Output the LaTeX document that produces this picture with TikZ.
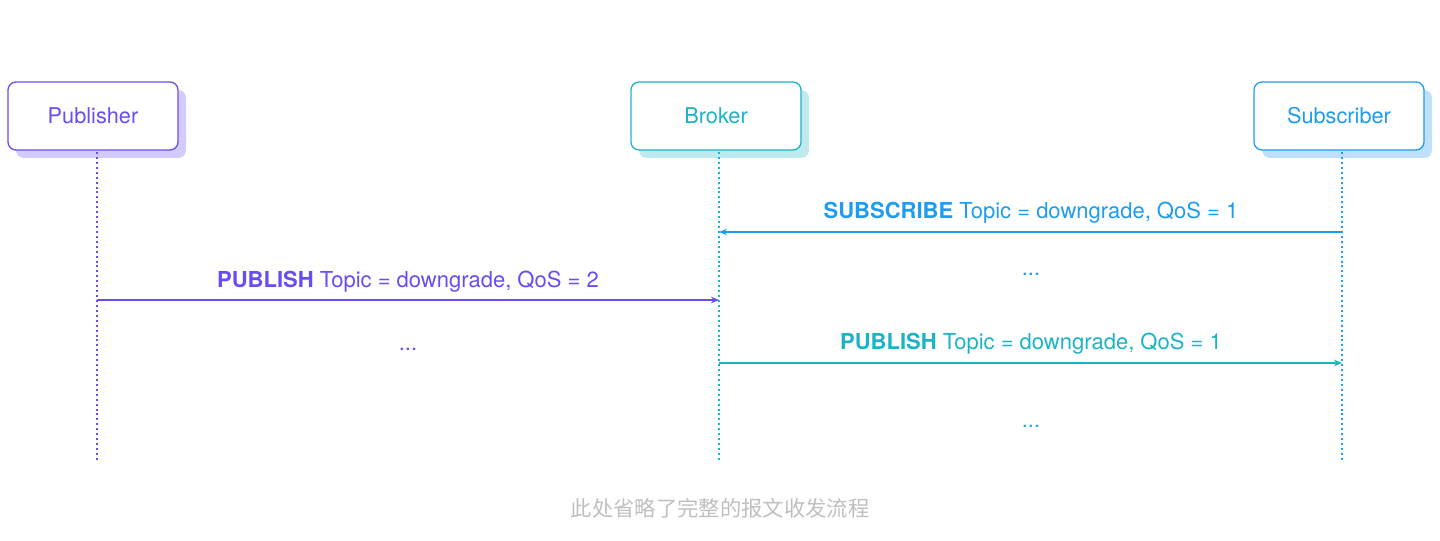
\documentclass[tikz,border=0pt]{standalone}
\usepackage{fontspec}
\setmainfont{TeX Gyre Heros}
\newfontfamily\cjk{Noto Sans CJK SC}
\usetikzlibrary{arrows.meta}
\definecolor{cpub}{HTML}{6A4CF5}
\definecolor{cbro}{HTML}{1DB3C7}
\definecolor{csub}{HTML}{1E9CF0}
\definecolor{spub}{HTML}{D3CBFB}
\definecolor{sbro}{HTML}{BDE9EF}
\definecolor{ssub}{HTML}{BFE0FB}
\begin{document}
\begin{tikzpicture}[x=0.75pt,y=-0.75pt,
  actor/.style={draw=#1,line width=1pt,rounded corners=6pt,fill=white,minimum width=127.5pt,minimum height=51pt,text=#1,font=\fontsize{16.3}{18}\selectfont},
  life/.style={draw=#1,dash pattern=on 1.5pt off 2.2pt,line width=1pt},
  msg/.style={draw=#1,line width=1pt,-{Stealth[length=6pt,width=5pt]}},
  lab/.style={text=#1,font=\fontsize{16.5}{18}\selectfont},
  dots/.style={text=#1,font=\fontsize{16.5}{18}\selectfont}]
\useasboundingbox (0,0) rectangle (1440,541);
\fill[spub,rounded corners=6pt] (16,90) rectangle (186,158);
\fill[sbro,rounded corners=6pt] (639,90) rectangle (809,158);
\fill[ssub,rounded corners=6pt] (1262,90) rectangle (1432,158);
\node[actor=cpub] (pub) at (93,116) {Publisher};
\node[actor=cbro] (bro) at (716,116) {Broker};
\node[actor=csub] (sub) at (1339,116) {Subscriber};
\coordinate (pt) at (97,152); \coordinate (pb) at (97,460);
\coordinate (bt) at (719,152); \coordinate (bb) at (719,460);
\coordinate (st) at (1342,152); \coordinate (sb) at (1342,460);
\draw[life=cpub] (pt) -- (pb);
\draw[life=cbro] (bt) -- (bb);
\draw[life=csub] (st) -- (sb);
\coordinate (s1) at (1342,232); \coordinate (b1) at (719,232);
\draw[msg=csub] (s1) -- (b1);
\node[lab=csub] (l1) at (1031,213) {\textbf{SUBSCRIBE} Topic = downgrade, QoS = 1};
\node[dots=csub] (d1) at (1031,274) {...};
\coordinate (p2) at (97,300); \coordinate (b2) at (719,300);
\draw[msg=cpub] (p2) -- (b2);
\node[lab=cpub] (l2) at (408,282) {\textbf{PUBLISH} Topic = downgrade, QoS = 2};
\node[dots=cpub] (d2) at (408,349) {...};
\coordinate (b3) at (719,363); \coordinate (s3) at (1342,363);
\draw[msg=cbro] (b3) -- (s3);
\node[lab=cbro] (l3) at (1031,344) {\textbf{PUBLISH} Topic = downgrade, QoS = 1};
\node[dots=cbro] (d3) at (1031,426) {...};
\node[text=black!25,font=\cjk\fontsize{16}{18}\selectfont] (cap) at (720,508) {此处省略了完整的报文收发流程};
\end{tikzpicture}
\end{document}
